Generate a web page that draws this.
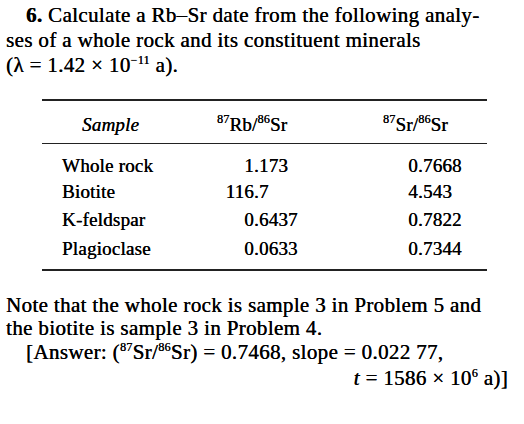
<!DOCTYPE html>
<html><head><meta charset="utf-8">
<script src="https://cdn.jsdelivr.net/npm/chart.js@4/dist/chart.umd.min.js"></script>
<style>
body{margin:0;width:524px;height:424px;background:#fff;font-family:"Liberation Serif","DejaVu Serif",serif;color:#000;font-size:21px;letter-spacing:0.35px;position:relative;overflow:hidden;text-shadow:0.3px 0 0 #000}
.a{position:absolute;white-space:nowrap;line-height:1}
.rule{position:absolute;left:42px;width:445px;background:#222}
sup{font-size:12px;vertical-align:8px;line-height:0}
.ip{display:inline-block;text-align:right}
.t{font-size:19px;letter-spacing:0.2px}
</style></head><body>
<div id="root"></div>
<script>
const samples = ["Whole rock", "Biotite", "K-feldspar", "Plagioclase"];
const rbSr = ["1.173", "116.7", "0.6437", "0.0633"];
const srSr = ["0.7668", "4.543", "0.7822", "0.7344"];
const rowY = [156, 182, 210, 239];

const root = document.getElementById("root");
function put(html, x, y, extra, cls) {
  const d = document.createElement("div");
  d.className = "a" + (cls ? " " + cls : "");
  d.style.left = x + "px"; d.style.top = y + "px";
  if (extra) Object.assign(d.style, extra);
  d.innerHTML = html;
  root.appendChild(d);
  return d;
}
function rule(y, h) {
  const d = document.createElement("div");
  d.className = "rule"; d.style.top = y + "px"; d.style.height = h + "px";
  root.appendChild(d);
}
// decimal-aligned number: integer part right-aligned in a fixed box
function num(v, dotX, y) {
  const [i, f] = v.split(".");
  put('<span class="ip" style="width:40px">' + i + '</span>.' + f, dotX - 40, y, null, "t");
}

put('<b>6.</b> Calculate a Rb–Sr date from the following analy-', 26, 5);
put('ses of a whole rock and its constituent minerals', 6, 30);
put('(λ = 1.42 × 10<sup>−11</sup> a).', 6, 55);

rule(99, 2);
put('<i>Sample</i>', 82, 115, null, "t");
put('<sup>87</sup>Rb/<sup>86</sup>Sr', 217, 115, null, "t");
put('<sup>87</sup>Sr/<sup>86</sup>Sr', 383, 115, null, "t");
rule(143, 1);

samples.forEach((s, k) => {
  put(s, 62, rowY[k], null, "t");
  num(rbSr[k], 254, rowY[k]);
  num(srSr[k], 418, rowY[k]);
});
rule(269, 2);

put('Note that the whole rock is sample 3 in Problem 5 and', 6, 295);
put('the biotite is sample 3 in Problem 4.', 6, 318);
put('[Answer: (<sup>87</sup>Sr/<sup>86</sup>Sr) = 0.7468, slope = 0.022 77,', 26, 342);
put('<i>t</i> = 1586 × 10<sup>6</sup> a)]', 0, 368, {left: "auto", right: "16px"});
</script>
</body></html>
